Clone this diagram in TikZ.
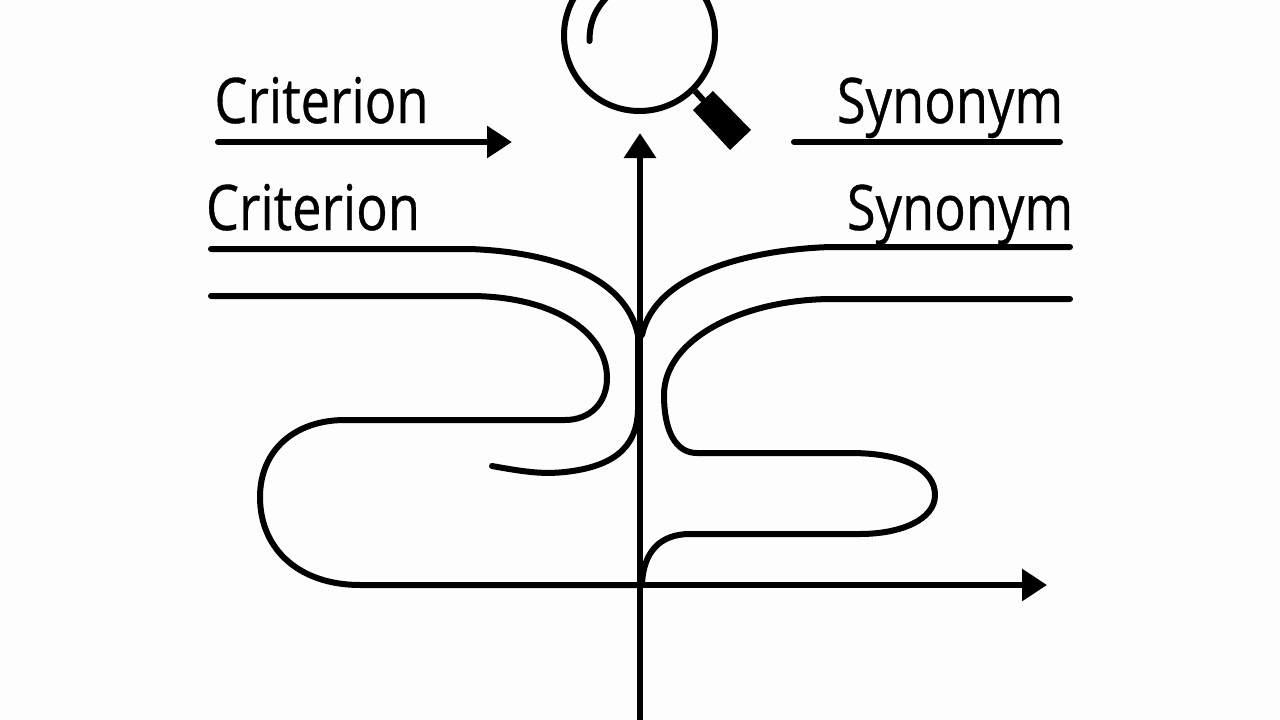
\documentclass[tikz,border=0pt]{standalone}
\usepackage{fontspec}
\usepackage{graphicx}
\setmainfont{Open Sans}[FakeBold=0.6]
\usetikzlibrary{arrows.meta}
\newcommand{\tallword}[1]{\scalebox{1}[1.2]{#1}}
\tikzset{
  stroke/.style={draw=black,line width=6pt,line cap=round,line join=round},
  arrowed/.style={stroke,line cap=butt,-{Triangle[length=25pt,width=31pt]}},
  label/.style={font=\fontsize{52.4pt}{52.4pt}\selectfont,text=black,inner sep=0pt,anchor=base}
}
\definecolor{paper}{HTML}{FDFDFE}
\begin{document}
\begin{tikzpicture}[x=1pt,y=-1pt]
\path[use as bounding box,fill=paper] (0,0) rectangle (1280,720);
\begin{scope}
\clip (0,0) rectangle (1280,720);
% lens
\draw[stroke] (639.5,35.5) circle[radius=75.5];
\draw[stroke] (589.5,41) .. controls (589.5,22) and (595,10) .. (607,-3);
\draw[stroke,line cap=butt] (695,91) -- (706,103);
\fill[black] (713,91) -- (751,130) -- (730,150) -- (693,110) -- cycle;
% axes
\coordinate (origin) at (640,585);
\coordinate (axisbottom) at (640,722);
\coordinate (axistop) at (640,133);
\coordinate (axisright) at (1047,585);
\draw[arrowed] (axisbottom) -- (axistop);
\draw[arrowed] (360,585) -- (axisright);
% top arrows and rules
\coordinate (a1) at (218,142); \coordinate (a2) at (512,142);
\draw[arrowed,line cap=round] (a1) -- (a2);
\draw[stroke] (794,142) -- (1060,142);
% left curves
\draw[stroke] (211,249) -- (470,249) .. controls (550,252) and (625,275) .. (638,335);
\draw[stroke] (211,296) -- (470,296) .. controls (550,296) and (607,330) .. (607,378)
  .. controls (607,403) and (590,420) .. (565,420) -- (345,420)
  .. controls (295,420) and (260,450) .. (260,497)
  .. controls (260,550) and (300,585) .. (360,585) -- (origin);
\draw[stroke] (492,466) .. controls (530,473) and (545,474) .. (565,472)
  .. controls (610,467) and (637,450) .. (638,410) -- (638,335);
% right curves
\draw[stroke] (1070,247) -- (830,247) .. controls (745,250) and (655,275) .. (642,335);
\draw[stroke] (1070,299) -- (830,299) .. controls (740,300) and (664,340) .. (664,395)
  .. controls (664,430) and (675,453) .. (697,453) -- (850,453)
  .. controls (905,453) and (935,470) .. (935,495)
  .. controls (935,520) and (900,534) .. (860,534) -- (690,534)
  .. controls (660,534) and (643,552) .. (642,585);
\end{scope}
% labels
\node[label] (c1) at (321.5,123) {\tallword{Criterion}};
\node[label] (c2) at (313,230) {\tallword{Criterion}};
\node[label] (s1) at (950,123) {\tallword{Synonym}};
\node[label] (s2) at (960,230) {\tallword{Synonym}};
\end{tikzpicture}
\end{document}
